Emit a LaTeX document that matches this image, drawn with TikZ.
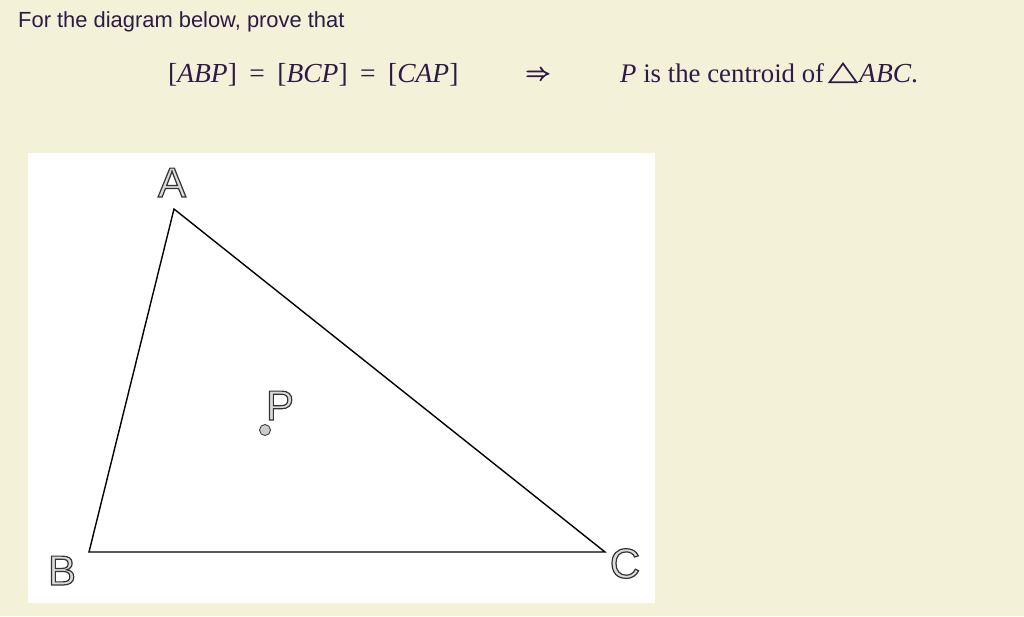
\documentclass[tikz,border=0pt]{standalone}
\usepackage{fontspec}
\setmainfont{Liberation Serif}
\newfontfamily\labfont{Liberation Sans}
\definecolor{bgc}{HTML}{F3F1D8}
\definecolor{txtc}{HTML}{2E1A47}
\newcommand{\outl}[1]{\special{pdf:literal q 0.86 g 0.2 G 2 Tr 1.2 w}#1\special{pdf:literal Q}}
\newcommand{\fat}[1]{\special{pdf:literal q 0.18 0.10 0.28 rg 0.18 0.10 0.28 RG 2 Tr 0.7 w}#1\special{pdf:literal Q}}
\newcommand{\eqsp}{\hspace{12.5pt}=\hspace{12.5pt}}
\tikzset{
  vlabel/.style={inner sep=0pt, font=\labfont\fontsize{42}{42}\selectfont},
  toptext/.style={inner sep=0pt, anchor=base west, text=txtc},
  tri/.style={draw=black, line width=1.4pt, line join=miter},
  trisym/.style={draw=txtc, line width=1.7pt, line join=miter},
}
\begin{document}
\begin{tikzpicture}[x=1pt,y=-1pt]
\useasboundingbox (0,0) rectangle (1024,616);
\fill[bgc] (0,0) rectangle (1024,616);
\fill[white] (28,153) rectangle (655,603);
% texts
\node[toptext, font=\labfont\fontsize{21.9}{22}\selectfont] (t1) at (18,27) {For the diagram below, prove that};
\node[toptext, font=\fontsize{27.5}{28}\selectfont] (t2) at (168,82) {[\textit{ABP}]\eqsp[\textit{BCP}]\eqsp[\textit{CAP}]};
\node[inner sep=0pt, text=txtc, font=\fontsize{26}{26}\selectfont] (t3) at (538,75.5) {\fat{$\Rightarrow$}};
\node[toptext, font=\fontsize{26.8}{27}\selectfont] (t4) at (620,82) {\textit{P} is the centroid of};
\coordinate (s1) at (829.5,82.2);
\coordinate (s2) at (856.5,82.2);
\coordinate (s3) at (843,63.5);
\draw[trisym] (s1) -- (s2) -- (s3) -- cycle;
\node[toptext, font=\fontsize{27.5}{28}\selectfont] (t5) at (859,82) {\textit{ABC}.};
% triangle
\coordinate (A) at (174,209);
\coordinate (B) at (89,552);
\coordinate (C) at (605,552);
\draw[tri] (A) -- (B) -- (C) -- cycle;
% point P
\node[circle, draw=black!75, fill=black!20, line width=0.9pt, minimum size=11pt, inner sep=0pt] (P) at (265,430) {};
% labels
\node[vlabel, anchor=base] (la) at (172,197) {\outl{A}};
\node[vlabel, anchor=base] (lb) at (62,585) {\outl{B}};
\node[vlabel, anchor=base] (lc) at (625,578) {\outl{C}};
\node[vlabel, anchor=base] (lp) at (280,420) {\outl{P}};
\end{tikzpicture}
\end{document}
